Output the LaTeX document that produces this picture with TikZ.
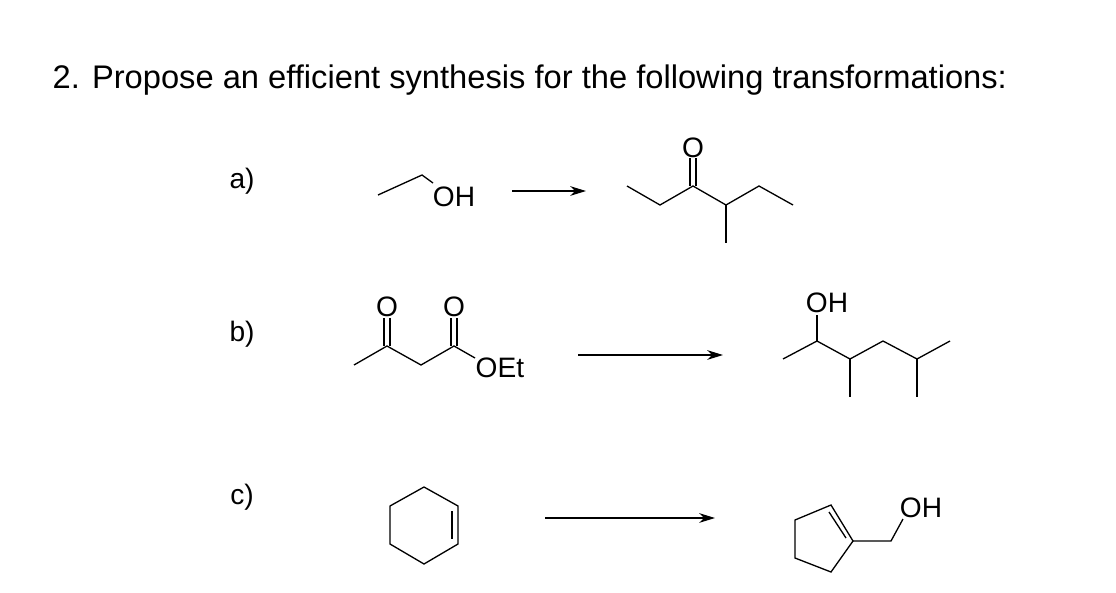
\documentclass[tikz,border=0pt]{standalone}
\usepackage{fontspec}
\setmainfont{Liberation Sans}
\usetikzlibrary{arrows.meta}
\begin{document}
\begin{tikzpicture}[x=0.02cm,y=-0.02cm,line width=0.75pt,
  bond/.style={line width=0.75pt,line join=miter},
  atom/.style={inner sep=0pt,font=\fontsize{16}{18}\selectfont},
  lbl/.style={inner sep=0pt,font=\fontsize{16}{18}\selectfont},
  rxn/.style={line width=0.9pt,-{Stealth[length=9pt,width=5.5pt]}}]
\useasboundingbox (0,0) rectangle (1116,592);
\node[anchor=base west,inner sep=0pt,font=\fontsize{18.6}{21}\selectfont] (title) at (52,88) {2. Propose an efficient synthesis for the following transformations:};
\node[lbl] (la) at (242,181) {a)};
\node[lbl] (lb) at (242,334) {b)};
\node[lbl] (lc) at (242,497) {c)};
% a
\node[atom] (oh1) at (454,197) {OH};
\draw[bond] (378,195) -- (422,175) -- (433,183);
\coordinate (a1) at (512,191); \coordinate (a2) at (586,191);
\draw[rxn] (a1) -- (a2);
\node[atom] (o1) at (693,148) {O};
\draw[bond] (627,186) -- (660,205) -- (693,186) -- (726,205) -- (759,186) -- (793,205);
\draw[bond] (726,205) -- (726,243);
\draw[bond] (690,186) -- (690,158); \draw[bond] (696,186) -- (696,158);
% b
\node[atom] (o2) at (387,307) {O};
\node[atom] (o3) at (454,307) {O};
\node[atom,anchor=west] (oet) at (475,368) {OEt};
\draw[bond] (354,365) -- (387,346) -- (421,365) -- (454,346) -- (475,358);
\draw[bond] (384,346) -- (384,318); \draw[bond] (390,346) -- (390,318);
\draw[bond] (451,346) -- (451,318); \draw[bond] (457,346) -- (457,318);
\coordinate (b1) at (578,355); \coordinate (b2) at (723,355);
\draw[rxn] (b1) -- (b2);
\node[atom] (oh2) at (827,303) {OH};
\draw[bond] (783,359) -- (817,341) -- (850,359) -- (883,341) -- (917,359) -- (950,341);
\draw[bond] (817,341) -- (817,315);
\draw[bond] (850,359) -- (850,397);
\draw[bond] (917,359) -- (917,397);
% c
\draw[bond] (424,487) -- (458,506) -- (458,544) -- (424,564) -- (390,544) -- (390,506) -- cycle;
\draw[bond] (452,511) -- (452,539);
\coordinate (c1) at (545,518); \coordinate (c2) at (715,518);
\draw[rxn] (c1) -- (c2);
\node[atom] (oh3) at (921,508) {OH};
\draw[bond] (853,541) -- (831,505) -- (795,520) -- (795,558) -- (831,572) -- cycle;
\draw[bond] (846,538) -- (829,512);
\draw[bond] (853,541) -- (891,541) -- (903,519);
\end{tikzpicture}
\end{document}
